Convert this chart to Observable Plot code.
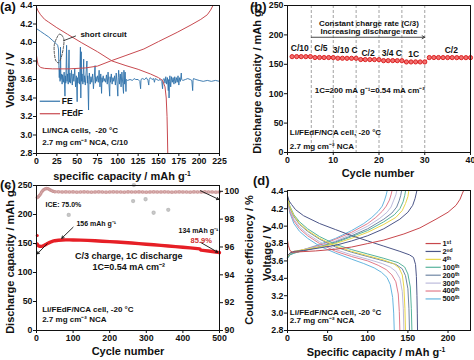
<!DOCTYPE html>
<html><head><meta charset="utf-8">
<script src="https://cdn.jsdelivr.net/npm/d3@7"></script>
<script src="https://cdn.jsdelivr.net/npm/@observablehq/plot@0.6"></script>
<style>
body{margin:0;background:#fff;}
#wrap{position:relative;width:474px;height:360px;overflow:hidden;font-family:"Liberation Sans",Arial,sans-serif;font-weight:bold;color:#111;}
.pane{position:absolute;}
.pane svg{background:transparent;overflow:visible;max-width:none;}
.t{position:absolute;white-space:nowrap;font-size:11px;line-height:1;transform:translate(-50%,-50%);}
.t.rot{transform:translate(-50%,-50%) rotate(-90deg);}
.t.pl{transform:none;font-size:13px;}
sup{font-size:0.62em;position:relative;top:-0.55em;vertical-align:baseline;line-height:0;}
</style></head><body><div id="wrap"></div>
<script>
// ---------- Panel (a) data ----------
const aXTicks=[0,25,50,75,100,125,150,175,200,225];
const aYTicks=[2.8,3.0,3.2,3.4,3.6,3.8,4.0,4.2,4.4];
const fedfDischarge=[[0,4.38],[2,4.34],[5,4.30],[10,4.25],[15,4.22],[25,4.16],[38,4.09],[55,4.00],[75,3.90],[93,3.80],[110,3.75],[125,3.71],[140,3.66],[150,3.62],[155,3.59],[158,3.52],[159.5,3.40],[160.5,3.2],[161,3.0],[161.4,2.8]];
const fedfCharge=[[0,3.86],[1,3.80],[2,3.76],[5,3.73],[10,3.72],[20,3.715],[40,3.715],[60,3.725],[75,3.745],[91,3.80],[110,3.86],[132,3.93],[150,4.01],[173,4.11],[190,4.19],[202,4.25],[210,4.30],[214,4.35],[217,4.40]];
const feCurve=[[0,4.15],[5,4.12],[10,4.09],[15,4.06],[20,4.02],[24,3.99],[26,3.97],[27,3.93],[27.5,3.75],[28,3.62],[28.5,3.72],[29,3.58],[29.5,3.95],[30,3.60],[31,3.66],[31.5,3.55],[32,3.65],[33,3.57],[34,3.68],[35,3.42],[35.5,3.64],[36,3.56],[37,3.97],[37.5,3.58],[38,3.66],[39,3.55],[40,3.92],[40.5,3.57],[41,3.67],[42,3.56],[43,3.70],[44,3.54],[45,3.66],[46,3.58],[47,3.72],[48,3.52],[49,3.64],[50,3.36],[50.5,3.62],[51,3.56],[52,3.68],[53,3.55],[54,3.95],[54.5,3.40],[55,3.90],[55.5,3.58],[56,3.66],[57,3.55],[58,3.82],[58.5,3.57],[59,3.64],[60,3.54],[61,3.68],[62,3.80],[62.5,3.56],[63,3.64],[64,3.27],[64.5,3.60],[65,3.67],[66,3.55],[67,3.63],[68,3.57],[69,3.66],[70,3.50],[71,3.62],[72,3.75],[72.5,3.56],[73,3.63],[74,3.58],[75,3.64],[76,3.57],[77,3.70],[78,3.52],[79,3.66],[80,3.45],[80.5,3.62],[81,3.57],[82,3.64],[83,3.58],[84,3.61],[85,3.57],[86,3.65],[87,3.55],[88,3.68],[89,3.56],[90,3.42],[90.5,3.63],[91,3.57],[92,3.66],[93,3.55],[94,3.62],[95,3.58],[96,3.64],[97,3.54],[98,3.67],[99,3.56],[100,3.42],[100.5,3.62],[101,3.70],[102,3.55],[103,3.66],[104,3.52],[105,3.68],[106,3.56],[107,3.45],[107.5,3.70],[108,3.55],[109,3.68],[110,3.47],[110.5,3.60],[112,3.59],[115,3.60],[118,3.59],[120,3.61],[122,3.60],[125,3.60],[127,3.58],[128,3.50],[128.5,3.60],[130,3.61],[133,3.60],[135,3.62],[137,3.59],[138,3.54],[138.5,3.60],[140,3.62],[142,3.60],[144,3.61],[145,3.57],[146,3.61],[148,3.60],[150,3.59],[152,3.60],[154,3.58],[155,3.50],[155.5,3.60],[157,3.61],[158,3.56],[159,3.63],[160,3.55],[161,3.62],[162,3.48],[162.5,3.60],[163,3.40],[163.5,3.58],[164,3.64],[165,3.52],[166,3.63],[167,3.57],[168,3.62],[169,3.55],[170,3.63],[171,3.56],[172,3.62],[173,3.57],[174,3.64],[175,3.54],[176,3.62],[177,3.58],[178,3.67],[178.5,3.60],[180,3.59],[183,3.60],[186,3.61],[189,3.60],[191,3.59],[192,3.48],[192.5,3.59],[193,3.61],[196,3.60],[200,3.59],[205,3.58],[210,3.59],[215,3.58],[220,3.59],[225,3.58]];
const shortCircuitLoop=[[31,4.08],[33.5,4.04],[33,3.94],[30,3.83],[27,3.78],[24,3.80],[22,3.88],[22,3.98],[25,4.05],[28,4.09],[31,4.08]];
const shortCircuitLeader=[[48,4.07],[33.5,4.02]];
const aNotes=[{x:54,y:4.09,t:"short circuit"},{x:7,y:3.05,t:"Li/NCA cells,  -20 \u00B0C"},{x:7,y:2.92,t:"2.7 mg cm\u207B\u00B2 NCA, C/10"}];
const aLegend=[{name:"FE",y:3.365},{name:"FEdF",y:3.23}];

// ---------- Panel (b) data ----------
const bXTicks=[0,10,20,30,40];
const bYTicks=[0,50,100,150,200,250];
const bCycles=d3.range(1,41);
const bCapacity=[163,163.1,163,163,163.1,161.5,161.6,161.5,161.5,161.4,160.3,160.3,160.2,160.2,160.2,158.1,158,158,158,157.9,156.2,156.2,156.3,156.2,156.1,154,154,154.1,154,154,161.5,161.5,161.5,161.4,161.4,161.4,161.3,161.3,161.3,161.3];
const bDividers=[5.2,10,15,20,25,30];
const bRates=[{x:2.7,y:177,t:"C/10"},{x:7.3,y:177,t:"C/5"},{x:12.6,y:174,t:"3/10 C"},{x:17.6,y:169,t:"C/2"},{x:22.8,y:169,t:"3/4 C"},{x:27.6,y:167,t:"1C"},{x:35.8,y:174,t:"C/2"}];
const bCentered=[{x:17.8,y:220,t:"Constant charge rate (C/3)"},{x:17.8,y:205.5,t:"Increasing discharge rate"},{x:18,y:106,t:"1C=200 mA g\u207B\u00B9=0.54 mA cm\u207B\u00B2"}];
const bCellNotes=[{x:0.5,y:34,t:"Li/FEdF/NCA cell, -20 \u00B0C"},{x:0.5,y:11,t:"2.7 mg cm\u207B\u00B2 NCA"}];
const bArrow=[{x1:5.2,x2:30,y:196}];

// ---------- Panel (c) data ----------
const cXTicks=[0,100,200,300,400,500];
const cYTicks=[0,50,100,150,200,250];
const ceTicks=[90,92,94,96,98,100];
const capCycle=[[2,149],[4,147],[6,146],[8,145.5],[10,145],[13,145],[16,145.5],[20,146.5],[25,148],[30,150],[35,151.5],[40,153],[45,154],[50,154.8],[60,155.6],[70,156],[80,156.2],[90,156.2],[100,156.1],[120,155.8],[140,155.3],[160,154.7],[180,154],[200,153.3],[220,152.5],[240,151.7],[260,150.8],[280,149.8],[300,148.8],[320,147.8],[340,146.8],[360,145.7],[380,144.6],[400,143.5],[420,142.4],[440,141.2],[446,140.8],[448,139.2],[450,138.6],[460,137.8],[470,137],[480,136.2],[490,135.2],[500,134.2]];
const capFirst=[[2,164]];
const ceCycle=[[2,99.55],[5,99.6],[8,99.7],[11,99.8],[14,99.95],[17,100.05],[20,100.12],[24,100.18],[28,100.2],[32,100.18],[36,100.12],[40,100.06],[45,100.0],[50,99.97],[60,99.96],[70,99.95],[80,99.96],[90,99.95],[100,99.96],[110,99.94],[120,99.95],[130,99.96],[140,99.95],[150,99.94],[160,99.95],[170,99.96],[180,99.95],[190,99.94],[200,99.95],[210,99.96],[220,99.95],[230,99.95],[240,99.94],[250,99.96],[260,99.95],[270,99.95],[280,99.96],[290,99.95],[300,99.94],[310,99.95],[320,99.96],[330,99.95],[340,99.95],[350,99.96],[360,99.95],[370,99.94],[380,99.95],[390,99.96],[400,99.95],[410,99.95],[420,99.94],[430,99.96],[440,99.95],[450,99.95],[460,99.96],[470,99.95],[480,99.95],[490,99.94],[500,99.95]];
const ceOutliers=[[88,98.3],[266,100.45],[264,99.3],[298,99.43],[320,98.46],[360,98.67]];
const cArrows=[{x1:100,y1:178,x2:69,y2:159},{x1:29,y1:149.5,x2:2,y2:132},{x1:448,y1:241,x2:498,y2:226},{x1:448,y1:152,x2:495,y2:135}];
const cSmallNotes=[{x:24.6,y:216,t:"ICE: 75.0%"},{x:109,y:184,t:"156 mAh g\u207B\u00B9"},{x:388,y:172,t:"134 mAh g\u207B\u00B9"}];
const cRetention=[{x:421,y:155,t:"85.9%"}];
const cCentered=[{x:252,y:127.5,t:"C/3 charge, 1C discharge"},{x:252,y:110,t:"1C=0.54 mA cm\u207B\u00B2"}];
const cCellNotes=[{x:15.5,y:37,t:"Li/FEdF/NCA cell, -20 \u00B0C"},{x:15.5,y:19,t:"2.7 mg cm\u207B\u00B2 NCA"}];

// ---------- Panel (d) data ----------
const dXTicks=[0,50,100,150,200];
const dYTicks=[2.8,3.0,3.2,3.4,3.6,3.8,4.0,4.2,4.4];
const dNames=["1\u02E2\u1D57","2\u207F\u1D48","4\u1D57\u02B0","100\u1D57\u02B0","200\u1D57\u02B0","300\u1D57\u02B0","400\u1D57\u02B0","500\u1D57\u02B0"];
const dColors=["#c8474c","#4c5688","#e8d64a","#58b49c","#6f86a4","#bdbbdc","#e27c8c","#66b6e0"];
const dCharge=[
 [[0,3.84],[1,3.78],[3,3.72],[6,3.70],[15,3.705],[35,3.715],[60,3.735],[80,3.76],[100,3.80],[120,3.84],[145,3.91],[165,3.98],[185,4.08],[200,4.16],[210,4.24],[215,4.31],[218,4.38],[219,4.4]],
 [[0,3.66],[3,3.69],[8,3.71],[20,3.72],[40,3.75],[60,3.78],[80,3.83],[100,3.89],[120,3.97],[140,4.08],[150,4.16],[156,4.24],[159,4.32],[161,4.4]],
 [[0,3.65],[3,3.69],[8,3.71],[20,3.73],[40,3.76],[60,3.80],[80,3.86],[100,3.93],[120,4.02],[135,4.10],[143,4.18],[147,4.26],[150,4.34],[151,4.4]],
 [[0,3.63],[3,3.67],[8,3.69],[20,3.72],[40,3.76],[60,3.81],[80,3.88],[100,3.95],[120,4.05],[133,4.13],[140,4.20],[144,4.28],[146,4.35],[147,4.4]],
 [[0,3.63],[3,3.67],[8,3.69],[20,3.72],[40,3.76],[60,3.82],[80,3.89],[100,3.97],[120,4.08],[130,4.15],[136,4.22],[139,4.29],[141,4.35],[142,4.4]],
 [[0,3.64],[3,3.68],[8,3.70],[20,3.73],[40,3.77],[60,3.83],[80,3.91],[100,4.00],[115,4.09],[124,4.16],[129,4.22],[132,4.29],[135,4.36],[136,4.4]],
 [[0,3.64],[3,3.68],[8,3.70],[20,3.73],[40,3.78],[60,3.85],[80,3.93],[100,4.03],[110,4.10],[118,4.17],[123,4.23],[127,4.30],[129,4.36],[130,4.4]],
 [[0,3.64],[3,3.68],[8,3.70],[20,3.73],[40,3.79],[60,3.86],[80,3.95],[95,4.03],[105,4.10],[113,4.17],[118,4.23],[121,4.30],[123,4.36],[124,4.4]]
];
const dDischarge=[
 [],
 [[0,4.35],[2,4.29],[5,4.25],[10,4.19],[20,4.12],[40,4.03],[60,3.96],[80,3.89],[100,3.83],[120,3.77],[140,3.71],[152,3.67],[157,3.64],[159.5,3.56],[160.6,3.42],[161.3,3.2],[161.7,3.0],[162,2.8]],
 [[0,4.33],[3,4.22],[8,4.12],[15,4.03],[25,3.95],[40,3.86],[60,3.77],[80,3.71],[100,3.66],[120,3.61],[132,3.57],[139,3.52],[143,3.44],[145,3.3],[146.3,3.05],[147,2.8]],
 [[0,4.34],[3,4.23],[8,4.13],[15,4.05],[25,3.97],[40,3.88],[60,3.79],[80,3.73],[100,3.68],[120,3.63],[138,3.58],[146,3.53],[150,3.45],[153,3.3],[154.3,3.05],[155,2.8]],
 [[0,4.33],[3,4.21],[8,4.11],[15,4.02],[25,3.94],[40,3.85],[60,3.76],[80,3.70],[100,3.65],[120,3.60],[135,3.56],[143,3.51],[147,3.43],[150,3.28],[151.3,3.05],[152,2.8]],
 [[0,4.32],[3,4.19],[8,4.08],[15,3.99],[25,3.91],[40,3.82],[60,3.73],[80,3.67],[100,3.62],[118,3.57],[128,3.53],[135,3.48],[140,3.40],[143,3.25],[144.3,3.05],[145,2.8]],
 [[0,4.31],[3,4.17],[8,4.06],[15,3.97],[25,3.89],[40,3.80],[60,3.71],[80,3.65],[100,3.60],[113,3.55],[123,3.50],[130,3.44],[135,3.36],[138,3.22],[139.3,3.02],[140,2.8]],
 [[0,4.30],[3,4.15],[8,4.03],[15,3.94],[25,3.86],[40,3.77],[60,3.69],[80,3.62],[95,3.57],[108,3.52],[117,3.47],[124,3.41],[128,3.33],[131,3.18],[132.3,3.0],[133,2.8]]
];
const dNotes=[{x:2.9,y:3.006,t:"Li/FEdF/NCA cell, -20 \u00B0C"},{x:2.9,y:2.917,t:"2.7 mg cm\u207B\u00B2 NCA"}];

// ---------- rendering ----------
const wrap=document.getElementById("wrap");
const FONT="Liberation Sans, Arial, sans-serif";
const baseStyle={fontFamily:FONT,fontWeight:"bold",fontSize:"8.8px",background:"transparent",color:"#111",overflow:"visible"};
const px=d=>d[0], py=d=>d[1];
function pane(left,top,svg){const d=document.createElement("div");d.className="pane";d.style.left=left+"px";d.style.top=top+"px";d.appendChild(svg);wrap.appendChild(d);}
function label(html,x,y,cls){const d=document.createElement("div");d.className="t "+(cls||"");d.style.left=x+"px";d.style.top=y+"px";d.innerHTML=html;wrap.appendChild(d);}

// (a)
const RED_A="#c84a50", BLUE_A="#2f72aa";
pane(0,0,Plot.plot({
  width:237,height:185,marginLeft:36,marginRight:18,marginTop:5,marginBottom:32,
  style:baseStyle,
  x:{domain:[0,225]},y:{domain:[2.8,4.4]},
  marks:[
    Plot.line(feCurve,{x:px,y:py,stroke:BLUE_A,strokeWidth:0.9}),
    Plot.line(fedfDischarge,{x:px,y:py,stroke:RED_A,strokeWidth:1}),
    Plot.line(fedfCharge,{x:px,y:py,stroke:RED_A,strokeWidth:1}),
    Plot.line(shortCircuitLoop,{x:px,y:py,stroke:"#555",strokeWidth:1,strokeDasharray:"2.5,1.5",curve:"catmull-rom"}),
    Plot.line(shortCircuitLeader,{x:px,y:py,stroke:"#111",strokeWidth:0.8}),
    Plot.text(aNotes,{x:"x",y:"y",text:"t",textAnchor:"start",fontSize:8,fontWeight:"bold",fill:"#111"}),
    Plot.link(aLegend,{x1:4,x2:29,y1:"y",y2:"y",stroke:(d,i)=>[BLUE_A,RED_A][i],strokeWidth:1.2}),
    Plot.text(aLegend,{x:31,y:"y",text:"name",textAnchor:"start",fontSize:8.5,fontWeight:"bold",fill:"#111"}),
    Plot.frame({stroke:"#111",strokeWidth:1}),
    Plot.axisX({ticks:aXTicks,tickSize:3,tickPadding:1,label:null}),
    Plot.axisY({ticks:aYTicks,tickSize:3,tickPadding:1,tickFormat:".1f",label:null})
  ]
}));

// (b)
const bPts=bCycles.map((c,i)=>({c,v:bCapacity[i]}));
pane(237,0,Plot.plot({
  width:237,height:180,marginLeft:50,marginRight:4,marginTop:5,marginBottom:28,
  style:baseStyle,
  x:{domain:[0,40]},y:{domain:[0,250]},
  marks:[
    Plot.ruleX(bDividers,{stroke:"#8a8a8a",strokeWidth:0.8,strokeDasharray:"3,2"}),
    Plot.line(bPts,{x:"c",y:"v",stroke:"#e03030",strokeWidth:0.8,strokeDasharray:"1.5,1.5"}),
    Plot.dot(bPts,{x:"c",y:"v",r:2.1,stroke:"#dd2222",strokeWidth:1,fill:"#f07070"}),
    Plot.arrow(bArrow,{x1:"x1",x2:"x2",y1:"y",y2:"y",stroke:"#333",strokeWidth:0.9,headLength:5}),
    Plot.text(bRates,{x:"x",y:"y",text:"t",fontSize:8.5,fontWeight:"bold",fill:"#111"}),
    Plot.text(bCentered,{x:"x",y:"y",text:"t",textAnchor:"middle",fontSize:8,fontWeight:"bold",fill:"#111"}),
    Plot.text(bCellNotes,{x:"x",y:"y",text:"t",textAnchor:"start",fontSize:8,fontWeight:"bold",fill:"#111"}),
    Plot.frame({stroke:"#111",strokeWidth:1}),
    Plot.axisX({ticks:bXTicks,tickSize:3,tickPadding:1,label:null}),
    Plot.axisY({ticks:bYTicks,tickSize:3,tickPadding:1,label:null})
  ]
}));

// (c)
const K=24; // left-axis units per CE percent
const toLeft=ce=>(ce-90)*K;
pane(0,175,Plot.plot({
  width:250,height:185,marginLeft:36,marginRight:31,marginTop:10,marginBottom:30,
  style:baseStyle,
  x:{domain:[0,500]},y:{domain:[0,250]},
  marks:[
    Plot.line(ceCycle,{x:px,y:d=>toLeft(d[1]),stroke:"#dcb4b4",strokeWidth:3}),
    Plot.dot(ceCycle,{x:px,y:d=>toLeft(d[1]),r:1.3,stroke:"#c48e8e",strokeWidth:0.7,fill:"none"}),
    Plot.dot(ceOutliers,{x:px,y:d=>toLeft(d[1]),r:1.4,fill:"#cfcfcf",stroke:"#c0c0c0"}),
    Plot.line(capCycle,{x:px,y:py,stroke:"#e61f26",strokeWidth:3.4}),
    Plot.dot(capFirst,{x:px,y:py,r:1.5,fill:"#e61f26"}),
    Plot.arrow(cArrows,{x1:"x1",y1:"y1",x2:"x2",y2:"y2",stroke:"#111",strokeWidth:0.9,headLength:4}),
    Plot.text(cSmallNotes,{x:"x",y:"y",text:"t",textAnchor:"start",fontSize:7,fill:"#111",fontWeight:"bold"}),
    Plot.text(cRetention,{x:"x",y:"y",text:"t",textAnchor:"start",fontSize:7.5,fill:"#d03030",fontWeight:"bold"}),
    Plot.text(cCentered,{x:"x",y:"y",text:"t",textAnchor:"middle",fontSize:9,fill:"#111",fontWeight:"bold"}),
    Plot.text(cCellNotes,{x:"x",y:"y",text:"t",textAnchor:"start",fontSize:8,fill:"#111",fontWeight:"bold"}),
    Plot.frame({stroke:"#111",strokeWidth:1}),
    Plot.axisX({ticks:cXTicks,tickSize:3,tickPadding:1,label:null}),
    Plot.axisY({ticks:cYTicks,tickSize:3,tickPadding:1,label:null}),
    Plot.axisY({anchor:"right",ticks:ceTicks.map(toLeft),tickFormat:d=>String(Math.round(d/K+90)),tickSize:3,tickPadding:2,label:null})
  ]
}));

// (d)
const dOrder=[7,6,5,4,3,2,1,0];
const dMarks=[];
for(const i of dOrder){
  dMarks.push(Plot.line(dCharge[i],{x:px,y:py,stroke:dColors[i],strokeWidth:1}));
  if(dDischarge[i].length) dMarks.push(Plot.line(dDischarge[i],{x:px,y:py,stroke:dColors[i],strokeWidth:1}));
}
const dLegend=dNames.map((n,i)=>({n,i,y:3.80-i*0.091}));
pane(237,175,Plot.plot({
  width:237,height:185,marginLeft:50,marginRight:4,marginTop:15,marginBottom:30,
  style:baseStyle,
  x:{domain:[0,228]},y:{domain:[2.8,4.41]},
  marks:[
    ...dMarks,
    Plot.link(dLegend,{x1:172,x2:191,y1:"y",y2:"y",stroke:d=>dColors[d.i],strokeWidth:1.2}),
    Plot.text(dLegend,{x:193,y:"y",text:"n",textAnchor:"start",fontSize:7.5,fontWeight:"bold",fill:"#111"}),
    Plot.text(dNotes,{x:"x",y:"y",text:"t",textAnchor:"start",fontSize:8,fontWeight:"bold",fill:"#111"}),
    Plot.frame({stroke:"#111",strokeWidth:1}),
    Plot.axisX({ticks:dXTicks,tickSize:3,tickPadding:1,label:null}),
    Plot.axisY({ticks:dYTicks,tickSize:3,tickPadding:1,tickFormat:".1f",label:null})
  ]
}));

// titles & panel labels
label("Voltage / V",10,80,"rot");
label("specific capacity / mAh g<sup>-1</sup>",122,176,"");
label("Discharge capacity / mAh g<sup>-1</sup>",257,79,"rot");
label("Cycle number",378,173,"");
label("Discharge capacity / mAh g<sup>-1</sup>",10,259,"rot");
label("Coulombic efficiency / %",249,260,"rot");
label("Cycle number",128,351,"");
label("Voltage / V",267,253,"rot");
label("Specific capacity / mAh g<sup>-1</sup>",376,352,"");
label("(a)",0,0,"pl");
label("(b)",250,0,"pl");
label("(c)",0,178,"pl");
label("(d)",253,174,"pl");
</script></body></html>
